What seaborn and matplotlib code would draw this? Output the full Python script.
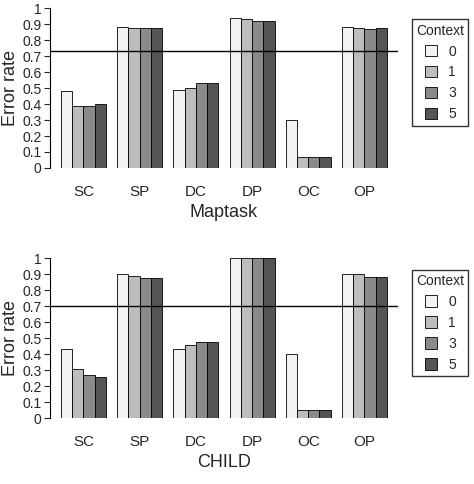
import matplotlib
matplotlib.use("Agg")
import matplotlib.pyplot as plt
import seaborn as sns
import pandas as pd
import numpy as np

categories = ["SC", "SP", "DC", "DP", "OC", "OP"]
contexts = ["0", "1", "3", "5"]
maptask = {
    "0": [0.48, 0.88, 0.49, 0.94, 0.30, 0.88],
    "1": [0.39, 0.875, 0.50, 0.93, 0.07, 0.875],
    "3": [0.39, 0.875, 0.53, 0.92, 0.07, 0.87],
    "5": [0.40, 0.875, 0.53, 0.92, 0.07, 0.875],
}
child = {
    "0": [0.43, 0.905, 0.435, 1.0, 0.40, 0.905],
    "1": [0.31, 0.89, 0.46, 1.0, 0.05, 0.90],
    "3": [0.27, 0.88, 0.475, 1.0, 0.05, 0.885],
    "5": [0.255, 0.88, 0.48, 1.0, 0.05, 0.885],
}
hlines = [0.73, 0.70]
titles = ["Maptask", "CHILD"]
colors = ["#f2f2f2", "#bdbdbd", "#8a8a8a", "#555555"]

sns.set_style("white")
plt.rcParams["font.family"] = ["Liberation Sans", "DejaVu Sans"]

fig = plt.figure(figsize=(4.74, 4.84), dpi=100)
axes = [fig.add_axes([0.105, 0.653, 0.735, 0.33]),
        fig.add_axes([0.105, 0.136, 0.735, 0.33])]

for ax, data, hl, title in zip(axes, [maptask, child], hlines, titles):
    df = pd.DataFrame([(c, k, v) for k in contexts for c, v in zip(categories, data[k])],
                      columns=["cat", "Context", "val"])
    sns.barplot(data=df, x="cat", y="val", hue="Context", palette=colors,
                edgecolor="black", linewidth=0.6, width=0.8, ax=ax, saturation=1)
    ax.axhline(hl, color="black", lw=1)
    ax.set_ylim(0, 1.0)
    ax.set_xlim(-0.6, 5.6)
    ax.set_yticks(np.arange(0, 1.01, 0.1))
    ax.set_yticklabels(["0", "0.1", "0.2", "0.3", "0.4", "0.5", "0.6", "0.7", "0.8", "0.9", "1"])
    ax.tick_params(axis="y", length=4, left=True, labelsize=10, pad=2)
    ax.tick_params(axis="x", length=0, labelsize=11, pad=12)
    for s in ["top", "right", "bottom"]:
        ax.spines[s].set_visible(False)
    ax.spines["left"].set_color("black")
    ax.set_ylabel("Error rate", fontsize=13, labelpad=2)
    ax.set_xlabel(title, fontsize=13, labelpad=4)
    leg = ax.legend(title="Context", loc="upper left", bbox_to_anchor=(1.04, 0.93),
                    frameon=True, fancybox=False, fontsize=10, title_fontsize=10,
                    handlelength=0.9, handleheight=0.9, borderpad=0.3,
                    borderaxespad=0, handletextpad=0.8)
    leg.get_frame().set_edgecolor("black")

fig.savefig("out.png", dpi=100)
